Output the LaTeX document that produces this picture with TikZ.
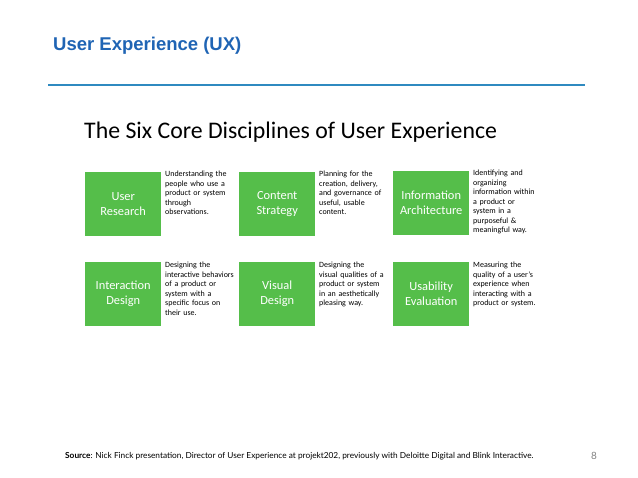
\documentclass[tikz,border=0pt]{standalone}
\usepackage{fontspec}
\setmainfont{Carlito}
\newfontfamily\hdfont{Liberation Sans}
\newfontfamily\srcfont{Lato}
\definecolor{boxgreen}{HTML}{55BE4A}
\definecolor{hdblue}{HTML}{1F64B4}
\definecolor{rule}{HTML}{2F8AC0}
\begin{document}
\begin{tikzpicture}[x=1pt,y=-1pt,
  gbox/.style={fill=boxgreen,draw=none,minimum width=76pt,minimum height=64pt,anchor=north west,text=white,font=\fontsize{12.4}{15}\selectfont,align=center,inner sep=0pt},
  desc/.style={anchor=north west,align=left,font=\fontsize{8}{9.5}\selectfont,inner sep=0pt,text width=78pt}]
\useasboundingbox (0,0) rectangle (638,478);
\node[anchor=west,text=hdblue,font=\hdfont\bfseries\fontsize{18.5}{21}\selectfont,inner sep=0pt] (hd) at (53,46) {User Experience (UX)};
\coordinate (l1) at (48,85); \coordinate (l2) at (585,85);
\draw[rule,line width=1.1pt] (l1) -- (l2);
\node[anchor=west,font=\fontsize{23.8}{28}\selectfont,inner sep=0pt] (title) at (84,132) {The Six Core Disciplines of User Experience};
\node[gbox] (b1) at (85,172) {User\\Research};
\node[gbox] (b2) at (239,172) {Content\\Strategy};
\node[gbox] (b3) at (393,171) {Information\\Architecture};
\node[gbox] (b4) at (85,262) {Interaction\\Design};
\node[gbox] (b5) at (239,262) {Visual\\Design};
\node[gbox] (b6) at (393,262) {Usability\\Evaluation};
\node[desc] (d1) at (165,171) {Understanding the\\people who use a\\product or system\\through\\observations.};
\node[desc] (d2) at (319,171) {Planning for the\\creation, delivery,\\and governance of\\useful, usable\\content.};
\node[desc] (d3) at (473,170) {Identifying and\\organizing\\information within\\a product or\\system in a\\purposeful \&\\meaningful way.};
\node[desc] (d4) at (165,262) {Designing the\\interactive behaviors\\of a product or\\system with a\\specific focus on\\their use.};
\node[desc] (d5) at (319,262) {Designing the\\visual qualities of a\\product or system\\in an aesthetically\\pleasing way.};
\node[desc] (d6) at (473,262) {Measuring the\\quality of a user's\\experience when\\interacting with a\\product or system.};
\node[anchor=west,font=\srcfont\fontsize{8.3}{9}\selectfont,inner sep=0pt] (src) at (65,456) {\textbf{Source}: Nick Finck presentation, Director of User Experience at projekt202, previously with Deloitte Digital and Blink Interactive.};
\node[anchor=west,font=\srcfont\fontsize{10}{11}\selectfont,text=gray,inner sep=0pt] (pg) at (591,456) {8};
\end{tikzpicture}
\end{document}
